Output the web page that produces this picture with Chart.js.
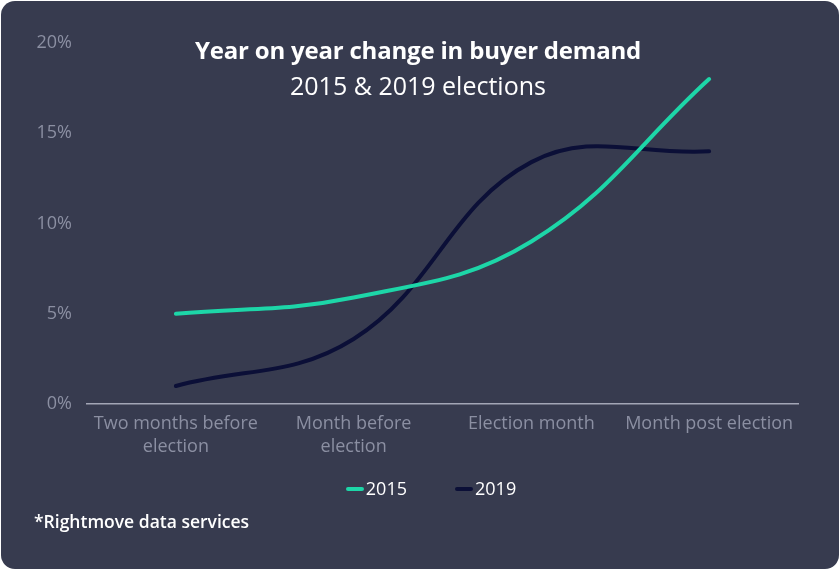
<!DOCTYPE html>
<html>
<head>
<meta charset="utf-8">
<script src="https://cdn.jsdelivr.net/npm/chart.js@4"></script>
<style>
	html, body { margin: 0; padding: 0; background: #ffffff; }
	.card {
		position: relative;
		width: 838px;
		height: 568px;
		margin: 1px;
		background: #373b4f;
		border-radius: 14px;
		overflow: hidden;
		font-family: "Open Sans", sans-serif;
	}
	.card canvas { position: absolute; left: 0; top: 0; }
	.title {
		position: absolute; left: 0; width: 834px; text-align: center;
		color: #ffffff; pointer-events: none; line-height: 1;
	}
	.main { top: 37px; font-size: 24px; font-weight: 700; letter-spacing: -0.2px; }
	.sub { top: 72px; font-size: 25px; font-weight: 400; }
	.legend {
		position: absolute; left: 0; width: 860px; top: 476px;
		text-align: center; color: #ffffff; font-size: 18px; line-height: 22px;
	}
	.legend span.item { display: inline-block; margin: 0 24px; }
	.legend span.swatch {
		display: inline-block; width: 18px; height: 4px; border-radius: 2px;
		vertical-align: middle; margin-right: 2px; position: relative; top: -1px;
	}
	.note {
		position: absolute; left: 33px; top: 509px;
		color: #ffffff; font-size: 17.5px; font-weight: 600; line-height: 22px;
	}
</style>
</head>
<body>
<div class="card">
	<canvas id="chart" width="838" height="568"></canvas>
	<div class="title main">Year on year change in buyer demand</div>
	<div class="title sub">2015 &amp; 2019 elections</div>
	<div class="legend" id="legend"></div>
	<div class="note">*Rightmove data services</div>
</div>
<script>
// chart data
const categories = [
	["Two months before", "election"],
	["Month before", "election"],
	"Election month",
	"Month post election",
];
const seriesNames = ["2015", "2019"];
const demand2015 = [5.0, 5.9, 9.0, 18.0];
const demand2019 = [1.0, 3.6, 13.4, 14.0];
const yTicks = [0, 5, 10, 15, 20];

const tealColor = "#1dd6a8";
const navyColor = "#0b0f37";
const tickColor = "#8b8fa2";
const tickFont = { family: "Open Sans", size: 18 };

const ctx = document.getElementById("chart");

const chart = new Chart(ctx, {
	type: "line",
	data: {
		labels: categories,
		datasets: [
			{
				label: seriesNames[0],
				data: demand2015,
				borderColor: tealColor,
				backgroundColor: tealColor,
				borderWidth: 4,
				tension: 0.4,
				pointRadius: 0,
				borderCapStyle: "round",
			},
			{
				label: seriesNames[1],
				data: demand2019,
				borderColor: navyColor,
				backgroundColor: navyColor,
				borderWidth: 4,
				tension: 0.4,
				pointRadius: 0,
				borderCapStyle: "round",
			},
		],
	},
	options: {
		responsive: false,
		animation: false,
		layout: { padding: { top: 42, right: 41, bottom: 113, left: 0 } },
		plugins: {
			title: { display: false },
			tooltip: { enabled: false },
			legend: { display: false },
		},
		scales: {
			x: {
				offset: true,
				grid: { display: false },
				border: { display: true, color: "#a3a6b6", width: 1.5 },
				afterFit: (scale) => {
					scale.height = 52;
				},
				ticks: {
					color: tickColor,
					font: { ...tickFont, lineHeight: 1.3 },
					maxRotation: 0,
					autoSkip: false,
					padding: 0,
				},
			},
			y: {
				min: 0,
				max: 20,
				afterBuildTicks: (scale) => {
					scale.ticks = yTicks.map((v) => ({ value: v }));
				},
				afterFit: (scale) => {
					scale.width = 86;
				},
				grid: { display: false },
				border: { display: false },
				ticks: {
					color: tickColor,
					font: tickFont,
					padding: 7,
					callback: (v) => v + "%",
				},
			},
		},
	},
});

// legend drawn from the chart's own datasets
document.getElementById("legend").innerHTML = chart.data.datasets
	.map((ds) => `<span class="item"><span class="swatch" style="background:${ds.borderColor}"></span>${ds.label}</span>`)
	.join("");
</script>
</body>
</html>
